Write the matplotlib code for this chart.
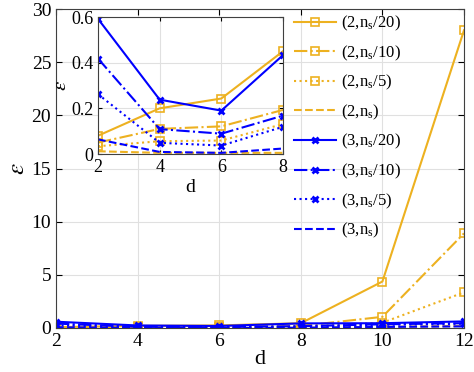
import numpy as np
import matplotlib
matplotlib.use('Agg')
import matplotlib.pyplot as plt

plt.rcParams['font.family'] = ['Liberation Serif', 'DejaVu Serif']
plt.rcParams['mathtext.fontset'] = 'stix'

d = [2, 4, 6, 8, 10, 12]
# (order, sample size) series
o20 = [0.08, 0.20, 0.243, 0.45, 4.37, 28.0]
o10 = [0.05, 0.11, 0.121, 0.193, 1.05, 8.9]
o5 = [0.034, 0.056, 0.059, 0.131, 0.5, 3.35]
o1 = [0.012, 0.005, 0.005, 0.005, 0.1, 0.2]
b20 = [0.592, 0.238, 0.19, 0.433, 0.45, 0.62]
b10 = [0.418, 0.109, 0.089, 0.168, 0.35, 0.45]
b5 = [0.262, 0.049, 0.037, 0.119, 0.3, 0.4]
b1 = [0.064, 0.009, 0.005, 0.024, 0.1, 0.15]

labels = [r'(2,n$_\mathregular{s}$/20)', r'(2,n$_\mathregular{s}$/10)',
          r'(2,n$_\mathregular{s}$/5)', r'(2,n$_\mathregular{s}$)',
          r'(3,n$_\mathregular{s}$/20)', r'(3,n$_\mathregular{s}$/10)',
          r'(3,n$_\mathregular{s}$/5)', r'(3,n$_\mathregular{s}$)']

orange = '#EDB120'
blue = '#0000FF'
series = [
    (o20, orange, '-', 's'), (o10, orange, '-.', 's'),
    (o5, orange, ':', 's'), (o1, orange, '--', None),
    (b20, blue, '-', 'x'), (b10, blue, '-.', 'x'),
    (b5, blue, ':', 'x'), (b1, blue, '--', None),
]


def draw(ax, npts):
    for (y, c, ls, mk), lab in zip(series, labels):
        kw = dict(color=c, linestyle=ls, linewidth=1.5, label=lab)
        if mk == 's':
            kw.update(marker='s', markersize=5.5, markerfacecolor='none',
                      markeredgewidth=1.2)
        elif mk == 'x':
            kw.update(marker='x', markersize=5, markeredgewidth=2.0)
        ax.plot(d[:npts], y[:npts], **kw)


fig = plt.figure(figsize=(4.74, 3.72), dpi=100)
ax = fig.add_axes([56/474, 1-328/372, (464-56)/474, (328-9)/372])
draw(ax, 6)
ax.set_xlim(2, 12)
ax.set_ylim(0, 30)
ax.set_xticks([2, 4, 6, 8, 10, 12])
ax.set_yticks([0, 5, 10, 15, 20, 25, 30])
ax.tick_params(direction='in', labelsize=14, length=4, top=True, right=True)
ax.grid(True, color='#e0e0e0', linewidth=0.8)
for s in ax.spines.values():
    s.set_color('#404040')
ax.set_xlabel('d', fontsize=16, labelpad=0)
ax.set_ylabel(r'$\epsilon$', fontsize=18, labelpad=2)

ax.legend(loc='upper left', bbox_to_anchor=(294/474, 1-14/372),
          bbox_transform=fig.transFigure, frameon=False, fontsize=12,
          handlelength=2.5, handletextpad=0.3, labelspacing=0.62,
          borderpad=0, borderaxespad=0)

ins = fig.add_axes([98/474, 1-154/372, (283-98)/474, (154-17)/372])
draw(ins, 4)
ins.set_xlim(2, 8)
ins.set_ylim(0, 0.6)
ins.set_xticks([2, 4, 6, 8])
ins.set_yticks([0, 0.2, 0.4, 0.6])
ins.set_yticklabels(['0', '0.2', '0.4', '0.6'])
ins.tick_params(direction='in', labelsize=13, length=3, top=True, right=True)
ins.grid(True, color='#e0e0e0', linewidth=0.8)
for s in ins.spines.values():
    s.set_color('#404040')
ins.set_xlabel('d', fontsize=14, labelpad=2)
ins.set_ylabel(r'$\epsilon$', fontsize=15, labelpad=0)

fig.savefig('out.png', dpi=100)
